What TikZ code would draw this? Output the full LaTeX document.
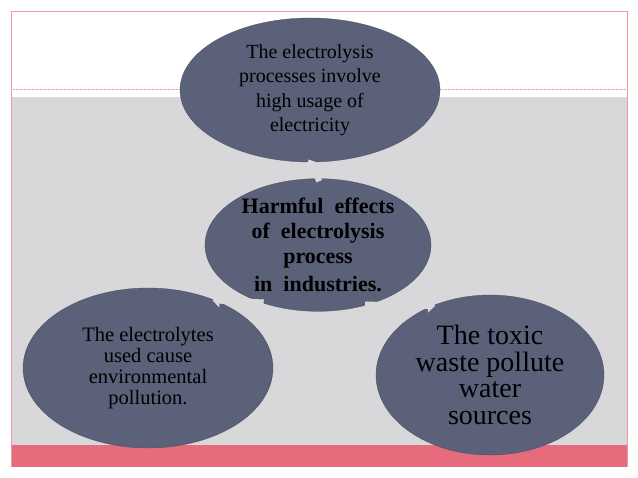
\documentclass[tikz,border=0pt]{standalone}
\usepackage{fontspec}
\setmainfont{Liberation Serif}
\usetikzlibrary{shapes.geometric,arrows.meta}
\definecolor{ell}{HTML}{5A6178}
\definecolor{pinkb}{HTML}{E66C7D}
\definecolor{bg}{HTML}{D8D8DA}
\tikzset{
  bub/.style={ellipse,fill=ell,draw=ell!80!black,line width=0.3pt,inner sep=0pt,align=center,text=black},
  conn/.style={draw=gray!30,line width=6pt,-{Triangle[length=7pt,width=13pt]},shorten <=-3pt,shorten >=-3pt}
}
\begin{document}
\begin{tikzpicture}[x=1pt,y=-1pt]
\useasboundingbox (0,0) rectangle (638,478);
\fill[white] (0,0) rectangle (638,478);
\fill[bg] (11,97) rectangle (627,445);
\fill[pinkb] (11,445) rectangle (627,467);
\draw[pinkb!70,line width=0.6pt] (11,467) -- (11,11) -- (627,11) -- (627,467);
\draw[pinkb!70,densely dotted,line width=0.6pt] (11,89) -- (627,89);
\node[bub,minimum width=260,minimum height=144,font=\fontsize{20}{24.5}\selectfont] (t) at (310,90) {The electrolysis\\processes involve\\high usage of\\electricity};
\node[bub,minimum width=226,minimum height=132,font=\bfseries\fontsize{22}{25}\selectfont] (c) at (318,245) {Harmful\ \ effects\\of\ \ electrolysis\\process\\[3pt]in\ \ industries.};
\node[bub,minimum width=250,minimum height=160,font=\fontsize{20.5}{21}\selectfont] (l) at (148,368) {The electrolytes\\used cause\\environmental\\pollution.};
\node[bub,minimum width=228,minimum height=160,font=\fontsize{28}{26.5}\selectfont] (r) at (490,375) {The toxic\\waste pollute\\water\\sources};
\draw[conn] (c.north) -- (t.south);
\draw[conn] (c.225) -- (l.45);
\draw[conn] (c.310) -- (r.130);
\end{tikzpicture}
\end{document}
